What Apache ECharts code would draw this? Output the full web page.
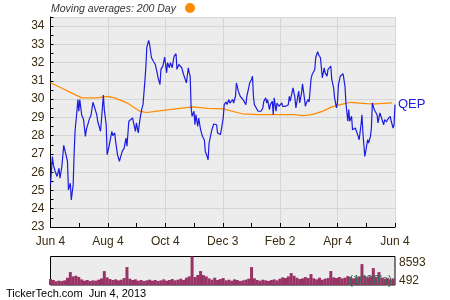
<!DOCTYPE html>
<html><head><meta charset="utf-8">
<script src="https://cdn.jsdelivr.net/npm/echarts@6/dist/echarts.min.js"></script>
<style>html,body{margin:0;padding:0;background:#fff}#c{width:450px;height:300px}</style>
</head><body><div id="c"></div>
<script>
// x axis: days since Jun 4, 2012
var xLabels = ['Jun 4','Aug 4','Oct 4','Dec 3','Feb 2','Apr 4','Jun 4'];
var yTicks = [23,24,25,26,27,28,29,30,31,32,33,34];
var seriesName = 'QEP';
var priceDays = [0,2,3,5,7,9,10,12,14,16,18,19,21,22,24,25,26,28,29,30,31,33,35,37,38,40,41,43,45,47,49,50,53,55,56,57,59,60,62,64,65,66,68,69,71,73,75,76,78,80,81,83,84,85,87,88,90,91,93,94,95,97,98,100,101,102,104,105,107,109,111,113,114,116,117,119,121,123,124,126,127,129,130,131,133,134,136,137,139,141,143,144,146,147,148,149,150,152,153,154,156,157,159,160,161,163,164,166,167,168,170,171,173,174,176,177,178,180,181,182,183,184,186,187,189,190,191,193,194,196,197,199,200,201,203,204,206,207,208,210,211,213,214,215,216,218,219,220,222,223,225,226,228,229,230,232,233,235,236,237,239,240,242,243,245,246,247,249,250,252,253,254,256,257,259,260,262,263,264,266,267,269,270,271,273,274,276,277,279,280,281,283,284,286,287,288,290,291,293,294,296,297,298,300,301,303,304,305,307,309,310,312,313,315,316,317,319,320,322,323,324,326,327,329,330,331,333,334,336,337,339,340,341,343,344,346,347,349,350,351,353,354,356,357,358,360,361,363,364,365];
var priceValues = [25.31,26.86,26.40,26.04,25.77,26.22,25.67,26.30,27.47,27.47,26.60,25.03,25.40,24.48,25.30,26.96,28.24,29.34,29.98,29.34,29.98,29.15,28.88,27.96,28.33,28.27,28.88,29.15,29.83,29.74,29.15,28.79,28.24,29.52,30.22,29.43,28.60,26.96,27.42,27.42,28.24,28.00,28.15,27.69,26.96,26.60,26.55,27.14,27.32,27.87,27.42,28.79,28.70,28.79,28.97,28.70,28.24,28.70,28.15,28.60,28.97,29.52,29.70,30.99,31.72,32.82,33.22,33.00,32.27,32.08,31.90,31.44,31.17,30.80,31.63,31.81,32.30,31.44,32.00,31.72,32.00,31.72,32.08,32.36,32.49,31.63,31.90,31.81,31.72,31.35,31.26,30.89,31.72,31.44,31.26,29.52,29.06,29.34,28.60,29.15,28.51,28.97,28.33,28.42,27.96,27.78,27.14,26.86,26.68,27.60,27.69,28.33,28.64,28.60,28.60,28.15,28.15,28.06,28.33,28.40,28.97,29.70,29.85,29.70,29.98,29.79,29.70,29.98,29.79,30.16,30.89,30.44,30.53,30.16,30.25,29.98,30.07,29.70,30.16,30.62,30.89,31.08,31.26,30.16,29.70,29.52,29.61,29.34,29.43,29.34,29.52,29.89,30.07,29.79,29.98,29.43,29.70,29.89,29.15,30.07,29.34,29.79,29.61,29.70,29.79,29.61,29.70,29.61,29.52,29.70,30.16,29.89,29.98,30.62,30.07,29.52,30.16,30.44,29.79,30.34,30.84,30.07,29.61,29.79,29.98,29.85,31.08,31.32,31.35,31.63,32.27,32.60,32.45,32.27,31.72,31.17,31.72,31.44,31.26,31.63,31.72,31.81,31.08,30.62,30.07,29.52,29.80,30.75,31.26,31.32,31.39,30.71,29.79,28.79,29.43,28.79,29.06,28.33,28.24,28.42,28.33,27.96,27.78,28.60,29.15,28.15,26.86,27.14,27.78,27.60,27.96,28.42,29.79,29.43,29.34,29.15,28.70,29.25,29.30,29.25,28.60,28.88,28.75,28.88,28.82,29.06,28.79,28.42,28.60,29.70];
var maDays = [0,10,20,33,49,60,68,81,95,102,113,137,151,166,183,203,220,238,259,267,277,288,298,307,318,334,344,362];
var maValues = [30.90,30.65,30.40,30.07,30.07,30.15,30.07,29.80,29.33,29.27,29.35,29.50,29.58,29.50,29.47,29.20,29.15,29.15,29.15,29.10,29.15,29.33,29.58,29.70,29.83,29.76,29.74,29.80];
var volDays = [];
for (var d = 0; d <= 363; d += 3) volDays.push(d);
var volValues = [1800,1500,1100,1300,1200,1400,2200,3900,2600,2800,2400,1700,1300,1500,1200,1400,1300,1600,2000,4200,2300,1800,1500,1700,1400,1600,2100,5400,1900,1500,1700,1300,1500,1200,1400,1600,1300,1500,1200,1400,1700,1300,1500,1800,1400,1600,1900,1500,2200,2600,8593,2400,3000,4200,3000,2600,2000,1600,2200,1500,1800,2100,1400,1600,1300,1700,1500,1200,1400,1600,1900,5400,2000,1500,1300,1600,1400,1200,1500,1700,1400,1900,2300,2100,2600,3600,2800,2200,1800,2000,2400,2100,3300,2000,1700,2200,1600,1900,2100,4200,2300,2100,2400,2000,2200,2700,2400,2000,2300,2600,6300,2800,2300,2600,5100,2400,3900,2200,1900,2100,1700,2000];
var volTickValues = [492, 8593];
var volUnit = "(1000's)";
var legendText = 'Moving averages: 200 Day';
var footerText = 'TickerTech.com  Jun 4, 2013';

var FONT = 'Liberation Sans';
var LBL = '#3a2c10';
var chart = echarts.init(document.getElementById('c'), null, {renderer: 'canvas'});
var X_INT = 365 / 6;
chart.setOption({
  animation: false,
  backgroundColor: '#ffffff',
  textStyle: {fontFamily: FONT},
  grid: [
    {left: 50.5, right: 55, top: 17, height: 210, show: true, backgroundColor: '#ececec', borderWidth: 0},
    {left: 50.5, right: 55, top: 256.5, height: 28.5, show: true, backgroundColor: '#ececec', borderColor: '#000', borderWidth: 1}
  ],
  xAxis: [
    {type: 'value', gridIndex: 0, min: 0, max: 365, interval: X_INT,
     axisLine: {show: true, lineStyle: {color: '#000', width: 1}},
     axisTick: {show: true, inside: true, length: 4, lineStyle: {color: '#000'}},
     minorTick: {show: true, splitNumber: 2, length: 4, lineStyle: {color: '#000'}},
     splitLine: {show: true, lineStyle: {color: '#d6d6d6', width: 1}},
     axisLabel: {color: LBL, fontSize: 12, fontFamily: FONT, margin: 9, showMinLabel: true, showMaxLabel: true,
       formatter: function (v) { return xLabels[Math.round(v / X_INT)]; }}},
    {type: 'value', gridIndex: 1, min: 0, max: 365, show: false}
  ],
  yAxis: [
    {type: 'value', gridIndex: 0, min: 23, max: 34.5, interval: 1,
     axisLine: {show: true, lineStyle: {color: '#000', width: 1}},
     axisTick: {show: true, inside: true, length: 3, lineStyle: {color: '#000'}},
     minorTick: {show: true, splitNumber: 2, length: 3, lineStyle: {color: '#000'}},
     splitLine: {show: true, lineStyle: {color: '#d6d6d6', width: 1}},
     axisLabel: {color: LBL, fontSize: 12, fontFamily: FONT, margin: 6, showMaxLabel: false,
       formatter: function (v) { return yTicks.indexOf(v) >= 0 ? String(v) : ''; }}},
    {type: 'value', gridIndex: 1, min: 0, max: 8593, show: false},
    {type: 'value', gridIndex: 1, position: 'right', min: -1478, max: 11484,
     axisLine: {show: false}, axisTick: {show: false}, splitLine: {show: false},
     axisLabel: {show: true, customValues: volTickValues, color: LBL, fontSize: 12, fontFamily: FONT, margin: 4,
       formatter: function (v) { return String(v); }}}
  ],
  series: [
    {type: 'line', name: '200 Day', xAxisIndex: 0, yAxisIndex: 0, showSymbol: false, symbol: 'none',
     data: maDays.map(function (d, i) { return [d, maValues[i]]; }),
     lineStyle: {color: '#ff8c00', width: 1.2}, z: 3},
    {type: 'line', name: seriesName, xAxisIndex: 0, yAxisIndex: 0, showSymbol: false, symbol: 'none',
     data: priceDays.map(function (d, i) { return [d, priceValues[i]]; }),
     lineStyle: {color: '#1c1ce0', width: 1.2}, z: 4,
     endLabel: {show: true, formatter: seriesName, color: '#1c1ce0', fontSize: 13, fontFamily: FONT, distance: 3}},
    {type: 'bar', xAxisIndex: 1, yAxisIndex: 1, barWidth: 3, barGap: '0%',
     data: volDays.map(function (d, i) { return [d, volValues[i]]; }),
     itemStyle: {color: '#993366'}}
  ],
  graphic: [
    {type: 'text', left: 51, top: 4, style: {text: legendText, fill: '#333', font: 'italic 10.5px "Liberation Sans"'}},
    {type: 'circle', shape: {cx: 190, cy: 8, r: 5}, style: {fill: '#ff8c00'}},
    {type: 'text', left: 6, top: 288, style: {text: footerText, fill: '#000', font: '11px "Liberation Sans"'}},
    {type: 'text', right: 58, top: 275, z: 10, style: {text: volUnit, fill: '#2f6e55', font: '12px "Liberation Sans"'}}
  ]
});
</script></body></html>
